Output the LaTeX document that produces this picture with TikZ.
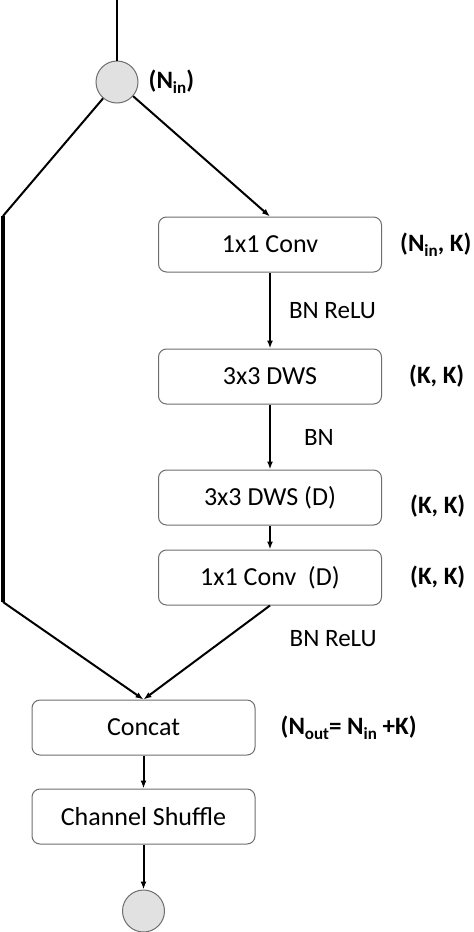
\documentclass[tikz,border=0pt]{standalone}
\usepackage{fontspec}
\setmainfont{Carlito}
\usetikzlibrary{arrows.meta,positioning}
\definecolor{blockBorder}{RGB}{110,110,110}
\definecolor{jointColor}{RGB}{225,225,225}
\newcommand{\subtxt}[1]{\raisebox{-5pt}{\fontsize{17}{17}\selectfont #1}}
\tikzset{block/.style={draw=blockBorder, fill=white, align=center, minimum width=223pt, minimum height=55pt, rounded corners=8pt, line width=1pt, font=\fontsize{26}{30}\selectfont}}
\tikzset{joint/.style={circle, draw=blockBorder, fill=jointColor, minimum size=42pt, inner sep=0pt, line width=1pt}}
\tikzset{dimlabel/.style={inner sep=0pt, font=\bfseries\fontsize{25}{30}\selectfont}}
\tikzset{oplabel/.style={inner sep=0pt, font=\fontsize{25}{30}\selectfont}}
\tikzset{flow/.style={line width=2pt, -{Latex[length=8pt,width=6pt]}}}

\begin{document}
\begin{tikzpicture}[x=1pt, y=-1pt, node distance=33pt and 25pt]
\useasboundingbox (0,0) rectangle (474,932);
% Nodes
\node (split_point) [joint] at (117,82) {};
\node (n_in) [dimlabel, right=10pt of split_point] {(N\subtxt{in})};

\node (conv_in) [block] at (270,244.5) {1x1 Conv};
\node (conv_in_dim) [dimlabel, right=18pt of conv_in] {(N\subtxt{in}, K)};

\node (dws) [block, below=76pt of conv_in] {3x3 DWS};
\node (dws_dim) [dimlabel, right=27pt of dws] {(K, K)};

\node (dws_d) [block, below=65pt of dws] {3x3 DWS (D)};
\node (dws_d_dim) [dimlabel, right=28pt of dws_d, yshift=-9pt] {(K, K)};

\node (conv_d) [block, below=24pt of dws_d] {1x1 Conv~ (D)};
\node (conv_d_dim) [dimlabel, right=28pt of conv_d] {(K, K)};

\node (concat) [block] at (143.5,727.5) {Concat};
\node (concat_dim) [dimlabel, right=25pt of concat] {(N\subtxt{out}= N\subtxt{in} +K)};

\node (shuffle) [block, below=of concat] {Channel Shuffle};
\node (out_point) [joint, below=45pt of shuffle] {};

\coordinate (in_top) at (117,0);
\coordinate (bypass_top) at (3,216);
\coordinate (bypass_bottom) at (3,602);

% Connectors
\draw [line width=2pt] (in_top) -- (split_point);
\draw [flow] (split_point) -- (conv_in.north);
\draw [line width=2pt] (split_point) -- (bypass_top);
\draw [line width=4pt] (bypass_top) -- (bypass_bottom);
\draw [flow] (bypass_bottom) -- (concat.north);

\draw [flow] (conv_in) -- node[oplabel, right=18pt] {BN ReLU} (dws);
\draw [flow] (dws) -- node[oplabel, right=33pt] {BN} (dws_d);
\draw [flow] (dws_d) -- (conv_d);
\draw [flow] (conv_d.south) -- node[oplabel, pos=0.35, right=63pt] {BN ReLU} (concat.north);

\draw [flow] (concat) -- (shuffle);
\draw [flow] (shuffle) -- (out_point);

\end{tikzpicture}
\end{document}
